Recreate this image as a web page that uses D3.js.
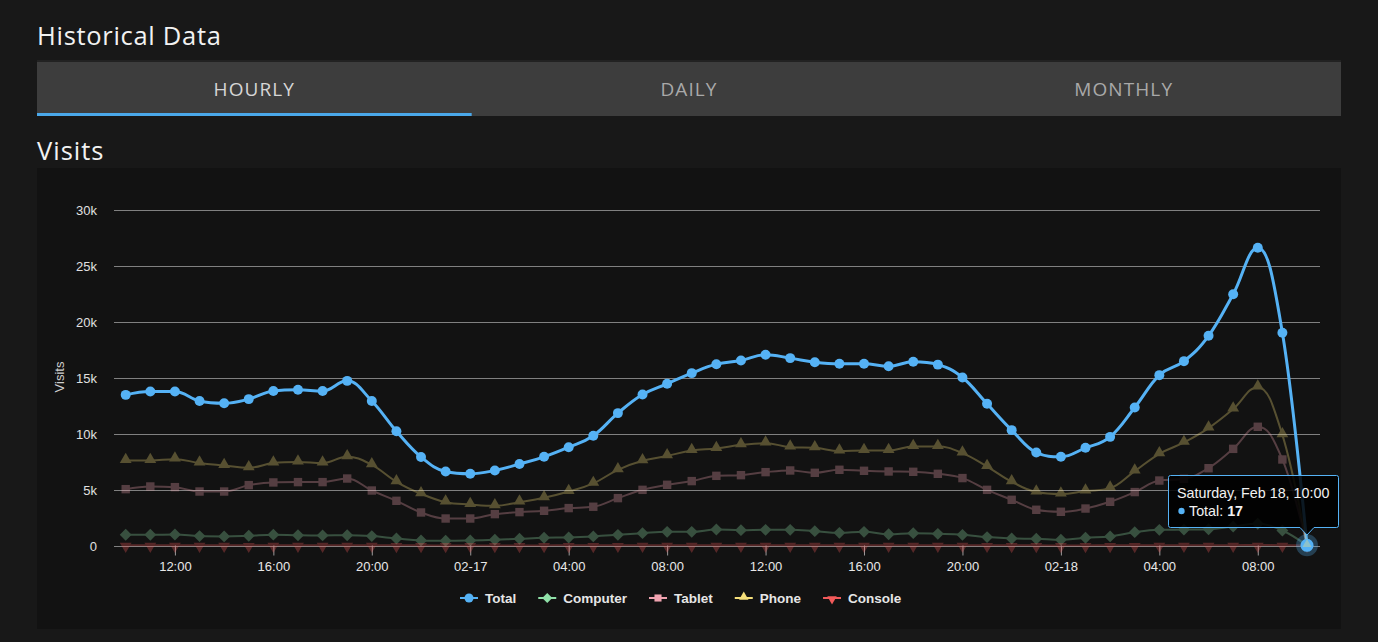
<!DOCTYPE html>
<html>
<head>
<meta charset="utf-8">
<script src="https://cdn.jsdelivr.net/npm/d3@7"></script>
<style>
  html, body { margin: 0; padding: 0; background: #181818; }
  svg { display: block; }
  text { font-family: "Liberation Sans", Arial, Helvetica, sans-serif; }
  .hdr { font-family: "Open Sans", "Noto Sans", sans-serif; }
</style>
</head>
<body>
<svg id="chart" width="1378" height="642"></svg>
<script>
// ---------------- DATA ----------------
const startHourUTC = Date.UTC(2017, 1, 16, 10); // Thu Feb 16 2017, 10:00
const hoursCount = 49;

const totalData = [13450,13750,13750,12900,12700,13070,13800,13900,13800,14700,12900,10200,7900,6600,6400,
  6700,7270,7920,8780,9800,11820,13480,14440,15390,16190,16520,17030,16730,16370,16220,16220,16000,16400,16150,
  15000,12650,10300,8300,7920,8720,9700,12320,15210,16460,18720,22440,26580,18990,17];
const computerData = [955,955,980,840,810,870,970,920,900,920,840,630,450,420,450,
  510,600,690,720,810,950,1100,1220,1220,1430,1370,1400,1400,1280,1130,1220,1000,1100,1040,
  950,750,630,600,510,690,810,1190,1400,1420,1450,1700,1940,1340,5];
const tabletData = [5030,5270,5210,4820,4820,5390,5630,5660,5660,5980,4910,3990,2950,2410,2410,
  2800,2980,3100,3340,3460,4230,4970,5420,5750,6220,6280,6550,6700,6490,6760,6670,6610,6580,6400,
  6020,4970,4080,3190,3010,3300,3900,4770,5800,5950,6900,8630,10600,7680,4];
const phoneData = [7590,7590,7710,7360,7140,6940,7360,7450,7360,7920,7200,5690,4620,3870,3660,
  3540,3870,4260,4820,5540,6760,7560,8000,8480,8660,8990,9140,8780,8720,8430,8480,8480,8840,8840,
  8250,7050,5690,4770,4590,4860,5120,6640,8190,9200,10480,12180,14140,9880,6];
const consoleData = [22,24,23,21,20,19,22,23,22,25,21,16,12,9,8,
  8,9,11,13,15,18,21,23,24,26,27,28,27,26,25,25,24,26,25,
  23,19,15,12,10,11,13,17,22,24,27,31,36,26,2];

const seriesNames = ["Total", "Computer", "Tablet", "Phone", "Console"];
const yTicks = [0, 5000, 10000, 15000, 20000, 25000, 30000];
const tabLabels = ["HOURLY", "DAILY", "MONTHLY"];
const pageTitle = "Historical Data";
const chartTitle = "Visits";
const yAxisTitle = "Visits";
const hoveredIndex = 48;

// ---------------- STYLE ----------------
const colors = { Total: "#55b2f5", Computer: "#8fe0a8", Tablet: "#f0a3b0", Phone: "#f5df7a", Console: "#f25a5a" };
const symbols = { Total: "circle", Computer: "diamond", Tablet: "square", Phone: "triangle", Console: "triangle-down" };
const seriesValues = { Total: totalData, Computer: computerData, Tablet: tabletData, Phone: phoneData, Console: consoleData };

const times = d3.range(hoursCount).map(i => new Date(startHourUTC + i * 3600e3));

const svg = d3.select("#chart");

// Page header
svg.append("text").attr("class", "hdr").attr("x", 37).attr("y", 45)
  .attr("font-size", 25.5).attr("fill", "#f2f2f2").attr("letter-spacing", 0.7).text(pageTitle);

// Tabs
const tabX0 = 37, tabW = 1304 / 3, tabY = 62, tabH = 54;
svg.append("rect").attr("x", 37).attr("y", 60).attr("width", 1304).attr("height", 2).attr("fill", "#222");
svg.append("rect").attr("x", 37).attr("y", tabY).attr("width", 1304).attr("height", tabH).attr("fill", "#3d3d3d");
tabLabels.forEach((t, i) => {
  svg.append("text").attr("class", "hdr")
    .attr("x", tabX0 + tabW * i + tabW / 2).attr("y", 96)
    .attr("text-anchor", "middle").attr("font-size", 19).attr("letter-spacing", 1.1)
    .attr("fill", i === 0 ? "#d6d6d6" : "#a9a9a9").text(t);
});
svg.append("rect").attr("x", tabX0).attr("y", 113).attr("width", tabW).attr("height", 3).attr("fill", "#4aa8ea");

svg.append("text").attr("class", "hdr").attr("x", 37).attr("y", 160)
  .attr("font-size", 25.5).attr("fill", "#f2f2f2").attr("letter-spacing", 1.0).text(chartTitle);

// Chart panel
svg.append("rect").attr("x", 37).attr("y", 168).attr("width", 1304).attr("height", 461).attr("fill", "#121212");

// Scales
const x = d3.scaleUtc().domain(d3.extent(times)).range([125.7, 1307]);
const y = d3.scaleLinear().domain([0, 30000]).range([545.5, 209.5]);
const plotLeft = 114, plotRight = 1320;

// Gridlines
svg.append("g").selectAll("line").data(yTicks).join("line")
  .attr("x1", plotLeft).attr("x2", plotRight)
  .attr("y1", d => Math.round(y(d)) + 0.5).attr("y2", d => Math.round(y(d)) + 0.5)
  .attr("stroke", "#808080").attr("stroke-width", 1);

// Y axis labels
const yAxis = d3.axisLeft(y).tickValues(yTicks).tickSize(0).tickPadding(0)
  .tickFormat(d => d === 0 ? "0" : (d / 1000) + "k");
const gy = svg.append("g").attr("transform", "translate(97,1)").call(yAxis);
gy.select(".domain").remove();
gy.selectAll("text").attr("font-size", 13).attr("fill", "#e0e0e0")
  .attr("font-family", "'Liberation Sans', Arial, sans-serif");

svg.append("text").attr("transform", "translate(64,377) rotate(-90)")
  .attr("text-anchor", "middle").attr("font-size", 13).attr("fill", "#cfcfcf").text(yAxisTitle);

// X axis
const xTickVals = d3.utcHour.every(4).range(times[0], new Date(+times[times.length - 1] + 1));
const fmtDay = d3.utcFormat("%m-%d"), fmtHour = d3.utcFormat("%H:%M");
const xAxis = d3.axisBottom(x).tickValues(xTickVals).tickSize(10).tickPadding(6)
  .tickFormat(d => d.getUTCHours() === 0 ? fmtDay(d) : fmtHour(d));
const gx = svg.append("g").attr("transform", "translate(0,545.5)").call(xAxis);
gx.select(".domain").remove();
gx.selectAll("line").attr("stroke", "#9a9a9a");
gx.selectAll("text").attr("font-size", 13).attr("fill", "#e8e8e8")
  .attr("font-family", "'Liberation Sans', Arial, sans-serif");

// Highcharts-like spline curve
function HSpline(context) { this._context = context; }
HSpline.prototype = {
  areaStart() {}, areaEnd() {},
  lineStart() { this._x = []; this._y = []; },
  point(px, py) { this._x.push(+px); this._y.push(+py); },
  lineEnd() {
    const xs = this._x, ys = this._y, n = xs.length, c = this._context;
    if (!n) return;
    c.moveTo(xs[0], ys[0]);
    const sm = 1.5, den = 2.5, L = [], R = [];
    for (let i = 1; i < n - 1; i++) {
      let lx = (sm * xs[i] + xs[i - 1]) / den, ly = (sm * ys[i] + ys[i - 1]) / den;
      let rx = (sm * xs[i] + xs[i + 1]) / den, ry = (sm * ys[i] + ys[i + 1]) / den;
      let corr = 0;
      if (rx !== lx) corr = ((ry - ly) * (rx - xs[i])) / (rx - lx) + ys[i] - ry;
      ly += corr; ry += corr;
      if (ly > ys[i - 1] && ly > ys[i]) { ly = Math.max(ys[i - 1], ys[i]); ry = 2 * ys[i] - ly; }
      else if (ly < ys[i - 1] && ly < ys[i]) { ly = Math.min(ys[i - 1], ys[i]); ry = 2 * ys[i] - ly; }
      if (ry > ys[i + 1] && ry > ys[i]) { ry = Math.max(ys[i + 1], ys[i]); ly = 2 * ys[i] - ry; }
      else if (ry < ys[i + 1] && ry < ys[i]) { ry = Math.min(ys[i + 1], ys[i]); ly = 2 * ys[i] - ry; }
      L[i] = [lx, ly]; R[i] = [rx, ry];
    }
    for (let i = 1; i < n; i++) {
      const c1 = (i - 1 === 0) ? [xs[0], ys[0]] : R[i - 1];
      const c2 = (i === n - 1) ? [xs[i], ys[i]] : L[i];
      c.bezierCurveTo(c1[0], c1[1], c2[0], c2[1], xs[i], ys[i]);
    }
  }
};
const hspline = ctx => new HSpline(ctx);

const symbolType = {
  circle: d3.symbolCircle, diamond: d3.symbolDiamond2, square: d3.symbolSquare2,
  triangle: d3.symbolTriangle2, "triangle-down": d3.symbolTriangle2
};
function markerPath(name, size) {
  return d3.symbol().type(symbolType[name]).size(size)();
}

const line = d3.line().x((d, i) => x(times[i])).y(d => y(d)).curve(hspline);

// Series
seriesNames.forEach(name => {
  const vals = seriesValues[name];
  const isTotal = name === "Total";
  const g = svg.append("g").attr("opacity", isTotal ? 1 : 0.3);
  g.append("path").datum(vals).attr("d", line).attr("fill", "none")
    .attr("stroke", colors[name]).attr("stroke-width", isTotal ? 3 : 2)
    .attr("stroke-linejoin", "round").attr("stroke-linecap", "round");
  const sym = symbols[name];
  const size = isTotal ? 78 : (sym === "square" ? 90 : sym === "diamond" ? 90 : 100);
  g.selectAll("path.m").data(vals).join("path").attr("class", "m")
    .attr("d", markerPath(sym, size))
    .attr("transform", (d, i) => `translate(${x(times[i])},${y(d) + (sym === "triangle" ? -1 : sym === "triangle-down" ? 1 : 0)})` + (sym === "triangle-down" ? " rotate(180)" : ""))
    .attr("fill", colors[name]);
});

// Hovered point (halo + marker)
const hx = x(times[hoveredIndex]), hy = y(totalData[hoveredIndex]);
svg.append("circle").attr("cx", hx).attr("cy", hy).attr("r", 11).attr("fill", colors.Total).attr("opacity", 0.28);
svg.append("circle").attr("cx", hx).attr("cy", hy).attr("r", 6.5).attr("fill", colors.Total);
svg.append("path").attr("d", markerPath("triangle", 60))
  .attr("transform", `translate(${hx},${hy - 1})`).attr("fill", colors.Phone).attr("opacity", 0.35);

// Legend
const legend = svg.append("g");
let lx = 460;
seriesNames.forEach(name => {
  const gi = legend.append("g").attr("transform", `translate(${lx},598)`);
  gi.append("line").attr("x1", 0).attr("x2", 18).attr("y1", 0).attr("y2", 0)
    .attr("stroke", colors[name]).attr("stroke-width", 2);
  const sym = symbols[name];
  gi.append("path").attr("d", markerPath(sym, name === "Total" ? 64 : 64))
    .attr("transform", `translate(9,${sym === "triangle" ? -1 : sym === "triangle-down" ? 1 : 0})` + (sym === "triangle-down" ? " rotate(180)" : ""))
    .attr("fill", colors[name]);
  const t = gi.append("text").attr("x", 25).attr("y", 5).attr("font-size", 13.5).attr("font-weight", "bold")
    .attr("fill", "#e6e6e6").text(name);
  lx += 25 + t.node().getComputedTextLength() + 22;
});

// Tooltip
const tip = svg.append("g");
const bx = 1168.5, by = 475.5, bw = 170, bh = 52;
const tipX = hx, tipY = 535;
tip.append("path")
  .attr("d", `M${bx + 2},${by} H${bx + bw - 2} Q${bx + bw},${by} ${bx + bw},${by + 2} V${by + bh - 2} Q${bx + bw},${by + bh} ${bx + bw - 2},${by + bh} H${tipX + 7} L${tipX},${tipY} L${tipX - 7},${by + bh} H${bx + 2} Q${bx},${by + bh} ${bx},${by + bh - 2} V${by + 2} Q${bx},${by} ${bx + 2},${by} Z`)
  .attr("fill", "rgba(0,0,0,0.86)").attr("stroke", colors.Total).attr("stroke-width", 1);
const fmtTip = d3.utcFormat("%A, %b %d, %H:%M");
tip.append("text").attr("x", 1177).attr("y", 498).attr("font-size", 14.3).attr("fill", "#f2f2f2")
  .text(fmtTip(times[hoveredIndex]));
tip.append("circle").attr("cx", 1181.5).attr("cy", 511).attr("r", 3.2).attr("fill", colors.Total);
const t2 = tip.append("text").attr("x", 1189).attr("y", 515.5).attr("font-size", 14.3).attr("fill", "#f2f2f2");
t2.append("tspan").text("Total: ");
t2.append("tspan").attr("font-weight", "bold").text(totalData[hoveredIndex]);
</script>
</body>
</html>
